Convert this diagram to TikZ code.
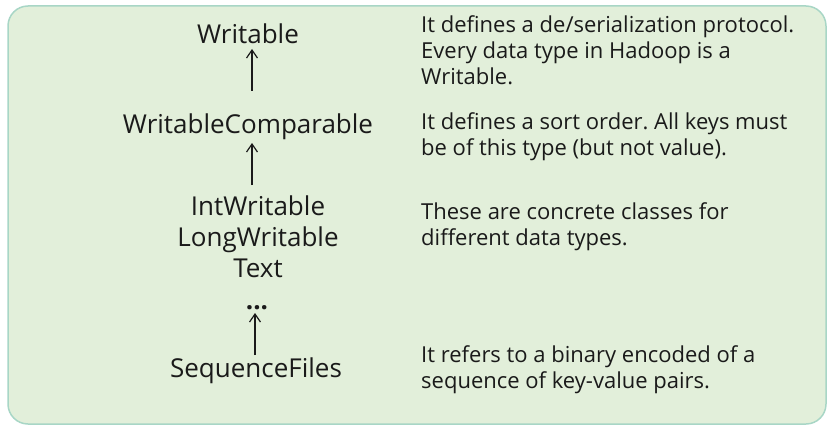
\documentclass[tikz,border=0pt]{standalone}
\usepackage{fontspec}
\setmainfont{Open Sans}
\frenchspacing
\usetikzlibrary{arrows.meta}
\definecolor{boxfill}{HTML}{E2EFDA}
\definecolor{boxline}{HTML}{A8D6C6}
\definecolor{txt}{HTML}{1A1A1A}
\begin{document}
\begin{tikzpicture}[x=1pt,y=-1pt,
  cls/.style={inner sep=0pt,anchor=base,text=txt,font=\fontsize{26}{31}\selectfont,align=center},
  desc/.style={inner sep=0pt,anchor=base west,text=txt,font=\fontsize{22}{26}\selectfont,align=left},
  arr/.style={draw=txt,line width=1.2pt,-{Straight Barb[length=8pt,width=11pt,line width=1.2pt]}}]
\useasboundingbox (0,0) rectangle (834,433);
\draw[fill=boxfill,draw=boxline,line width=1.5pt,rounded corners=20pt] (8,6) rectangle (826,424);
% class names (base = baseline of last line)
\node[cls] (w) at (248,44) {Writable};
\node[cls] (wc) at (248,133) {WritableComparable};
\node[cls] (iw) at (258,277) {IntWritable\\LongWritable\\Text};
\node[cls] (dots) at (257,309) {\textbf{...}};
\node[cls] (sf) at (256,377) {SequenceFiles};
% arrows
\draw[arr] ([xshift=4pt,yshift=42pt]wc.base) -- ([xshift=4pt,yshift=-5pt]w.base);
\draw[arr] ([xshift=-6pt,yshift=92pt]iw.base) -- ([xshift=4pt,yshift=-10pt]wc.base);
\draw[arr] ([xshift=-1pt,yshift=22pt]sf.base) -- ([xshift=-2pt,yshift=-4pt]dots.base);
% descriptions (base = baseline of last line)
\node[desc] (d1) at (421,85) {It defines a de/serialization protocol.\\Every data type in Hadoop is a\\Writable.};
\node[desc] (d2) at (421,155) {It defines a sort order. All keys must\\be of this type (but not value).};
\node[desc] (d3) at (421,245) {These are concrete classes for\\different data types.};
\node[desc] (d4) at (421,388) {It refers to a binary encoded of a\\sequence of key-value pairs.};
\end{tikzpicture}
\end{document}
